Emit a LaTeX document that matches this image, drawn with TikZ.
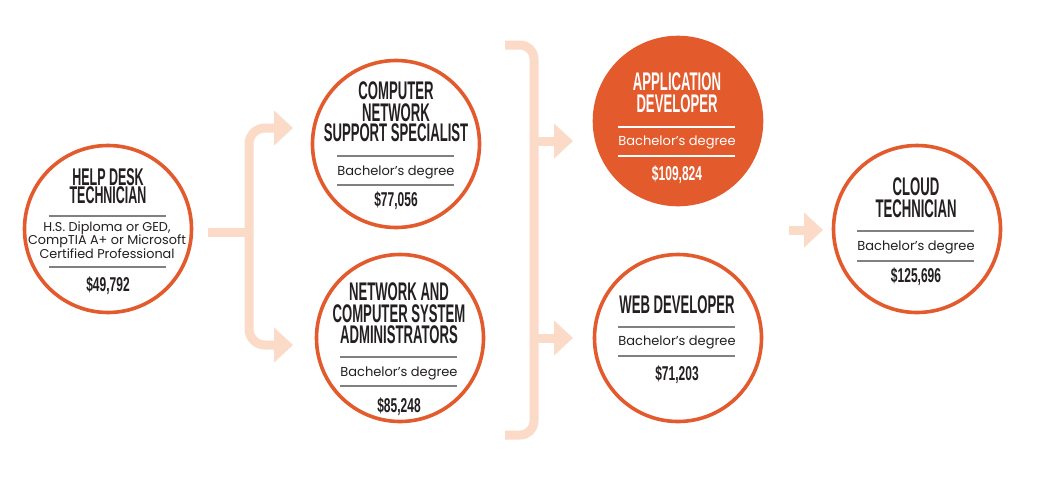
\documentclass[tikz,border=0pt]{standalone}
\usepackage{fontspec}
\setmainfont{Poppins}
\newfontfamily\titlefont[FakeStretch=0.515]{Liberation Sans}
\newfontfamily\salfont[FakeStretch=0.6]{Liberation Sans}
\usetikzlibrary{arrows.meta}
\definecolor{orng}{HTML}{E35A2D}
\definecolor{peach}{HTML}{FBDBC8}
\definecolor{ink}{HTML}{231F20}
\definecolor{rulegray}{HTML}{808080}
\tikzset{
  job/.style={circle, draw=orng, line width=3.6pt, minimum size=167pt, inner sep=0pt, fill=white},
  jobfilled/.style={job, fill=orng},
  ttl/.style={anchor=base, inner sep=0pt, font=\titlefont\bfseries\fontsize{25.5}{25.5}\selectfont, text=ink},
  ttls/.style={ttl, font=\titlefont\bfseries\fontsize{24.2}{24.2}\selectfont},
  sal/.style={anchor=base, inner sep=0pt, font=\salfont\bfseries\fontsize{20}{20}\selectfont, text=ink},
  body/.style={anchor=base, inner sep=0pt, font=\fontsize{13}{14}\selectfont, text=ink},
  bodys/.style={body, font=\fontsize{12.8}{14}\selectfont},
  sep/.style={draw=rulegray, line width=1.1pt},
  conn/.style={draw=peach, line width=9pt},
  tip/.style={-{Triangle[width=34pt,length=19pt]}},
}
\begin{document}
\begin{tikzpicture}[x=1pt,y=-1pt]
\useasboundingbox (0,0) rectangle (1062,483);
\fill[white] (0,0) rectangle (1062,483);

% connectors
\coordinate (ls) at (208,232);
\coordinate (lj) at (249,232);
\coordinate (lt) at (293,128);
\coordinate (lb) at (293,345);
\draw[conn] (ls) -- (lj);
\draw[conn, rounded corners=16pt, tip] (lj) |- (lt);
\draw[conn, rounded corners=16pt, tip] (lj) |- (lb);

\coordinate (rt) at (505,45);
\coordinate (rc) at (534,435);
\coordinate (rb) at (505,435);
\draw[conn, rounded corners=14pt] (rt) -| (rc) -- (rb);
\coordinate (ra1) at (534,141);
\coordinate (ra1e) at (573,141);
\coordinate (ra2) at (534,338);
\coordinate (ra2e) at (573,338);
\draw[conn, tip] (ra1) -- (ra1e);
\draw[conn, tip] (ra2) -- (ra2e);

\coordinate (ca) at (789,230);
\coordinate (cae) at (823,230);
\draw[conn, tip] (ca) -- (cae);

% Help desk
\node[job] (hd) at (108,229) {};
\node[ttls] (hd1) at (108,185) {HELP DESK};
\node[ttls] (hd2) at (108,203.3) {TECHNICIAN};
\draw[sep] (49,216) -- (166,216);
\node[bodys] (hdb1) at (107,231) {H.S. Diploma or GED,};
\node[bodys] (hdb2) at (107,244.5) {CompTIA A+ or Microsoft};
\node[bodys] (hdb3) at (107,258) {Certified Professional};
\draw[sep] (49,267) -- (166,267);
\node[sal] (hds) at (108,291) {\$49,792};

% Computer network support specialist
\node[job] (cn) at (396,144) {};
\node[ttl] (cn1) at (396,99.3) {COMPUTER};
\node[ttl] (cn2) at (396,121) {NETWORK};
\node[ttl] (cn3) at (396,141.7) {SUPPORT SPECIALIST};
\draw[sep] (337,156) -- (454,156);
\node[body] (cnb) at (396,175) {Bachelor’s degree};
\draw[sep] (337,185) -- (454,185);
\node[sal] (cns) at (396,206) {\$77,056};

% Network and computer system administrators
\node[job] (na) at (400,338) {};
\node[ttl] (na1) at (399,300) {NETWORK AND};
\node[ttl] (na2) at (399,322) {COMPUTER SYSTEM};
\node[ttl] (na3) at (399,343) {ADMINISTRATORS};
\draw[sep] (340,357) -- (457,357);
\node[body] (nab) at (399,376) {Bachelor’s degree};
\draw[sep] (340,386) -- (457,386);
\node[sal] (nas) at (399,412) {\$85,248};

% Application developer
\node[jobfilled] (ad) at (678,121) {};
\node[ttl, text=white] (ad1) at (677,90) {APPLICATION};
\node[ttl, text=white] (ad2) at (677,112) {DEVELOPER};
\draw[sep, draw=white] (618,127) -- (735,127);
\node[body, text=white] (adb) at (677,145) {Bachelor’s degree};
\draw[sep, draw=white] (618,156) -- (735,156);
\node[sal, text=white] (ads) at (677,180.5) {\$109,824};

% Web developer
\node[job] (wd) at (678,338) {};
\node[ttl] (wd1) at (677,313) {WEB DEVELOPER};
\draw[sep] (618,327) -- (735,327);
\node[body] (wdb) at (677,345) {Bachelor’s degree};
\draw[sep] (618,356) -- (735,356);
\node[sal] (wds) at (677,380.5) {\$71,203};

% Cloud technician
\node[job] (ct) at (917,229) {};
\node[ttl] (ct1) at (916,195) {CLOUD};
\node[ttl] (ct2) at (916,217) {TECHNICIAN};
\draw[sep] (857,231) -- (974,231);
\node[body] (ctb) at (916,250) {Bachelor’s degree};
\draw[sep] (857,261) -- (974,261);
\node[sal] (cts) at (916,282) {\$125,696};
\end{tikzpicture}
\end{document}
